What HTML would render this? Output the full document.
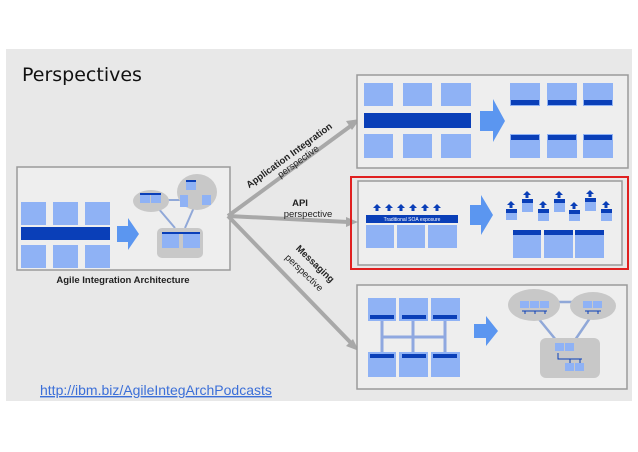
<!DOCTYPE html>
<html><head><meta charset="utf-8"><style>
html,body{margin:0;padding:0;background:#fff}
svg{display:block}
text{font-family:"Liberation Sans",sans-serif}
</style></head><body>
<svg width="638" height="452" viewBox="0 0 638 452" xmlns="http://www.w3.org/2000/svg">
<defs>
<g id="up"><rect x="-1.5" y="2" width="3" height="4" fill="#0a3fb8"/><polygon points="-4,3 0,-1 4,3" fill="#0a3fb8"/></g>
</defs>
<rect x="6" y="49" width="626" height="352" fill="#e8e8e8"/>
<text x="22" y="81" font-size="19" fill="#111" style="font-family:'DejaVu Sans',sans-serif">Perspectives</text>

<!-- left box -->
<rect x="17" y="167" width="213" height="103" fill="#eeeeee" stroke="#9a9a9a" stroke-width="1.5"/>
<g fill="#8fb2f5">
<rect x="21" y="202" width="25" height="23"/><rect x="53" y="202" width="25" height="23"/><rect x="85" y="202" width="25" height="23"/>
<rect x="21" y="245" width="25" height="23"/><rect x="53" y="245" width="25" height="23"/><rect x="85" y="245" width="25" height="23"/>
</g>
<rect x="21" y="227" width="89" height="13" fill="#0a3fb8"/>
<polygon points="117,226 128,226 128,218 139,234 128,250 128,242 117,242" fill="#5b96f0"/>
<g stroke="#90a8d8" stroke-width="2"><line x1="155" y1="200" x2="185" y2="200"/><line x1="158" y1="208" x2="175" y2="228"/><line x1="195" y1="205" x2="185" y2="228"/></g>
<ellipse cx="151" cy="201" rx="18" ry="11" fill="#c8c8c8"/>
<ellipse cx="197" cy="192" rx="20" ry="18" fill="#c8c8c8"/>
<rect x="157" y="228" width="46" height="30" rx="5" fill="#c8c8c8"/>
<g fill="#8fb2f5"><rect x="140" y="193" width="10" height="10"/><rect x="151" y="193" width="10" height="10"/><rect x="186" y="180" width="10" height="10"/><rect x="180" y="195" width="8" height="12"/><rect x="202" y="195" width="9" height="10"/><rect x="162" y="232" width="17" height="16"/><rect x="183" y="232" width="17" height="16"/></g>
<g fill="#0a3fb8"><rect x="140" y="193" width="21" height="2"/><rect x="186" y="180" width="10" height="2"/><rect x="162" y="232" width="38" height="2"/></g>

<text x="123" y="283" font-size="9.5" font-weight="bold" text-anchor="middle" fill="#222">Agile Integration Architecture</text>

<!-- connectors -->
<g stroke="#a8a8a8" stroke-width="4" fill="#a8a8a8">
<line x1="228" y1="216" x2="352" y2="125"/>
<line x1="228" y1="216" x2="348" y2="222"/>
<line x1="228" y1="216" x2="352" y2="344"/>
</g>
<g fill="#a8a8a8">
<polygon points="360,119 346,121 352,130"/>
<polygon points="358,222 346,217 346,227"/>
<polygon points="359,351 346,346 353,339"/>
</g>
<text transform="translate(291,158) rotate(-36)" font-size="9.5" font-weight="bold" text-anchor="middle" fill="#222">Application Integration</text>
<text transform="translate(300,164) rotate(-36)" font-size="9.5" text-anchor="middle" fill="#222">perspective</text>
<text x="300" y="206" font-size="9.5" font-weight="bold" text-anchor="middle" fill="#222">API</text>
<text x="308" y="217" font-size="9.5" text-anchor="middle" fill="#222">perspective</text>
<text transform="translate(313,266) rotate(44)" font-size="9.5" font-weight="bold" text-anchor="middle" fill="#222">Messaging</text>
<text transform="translate(302,275) rotate(44)" font-size="9.5" text-anchor="middle" fill="#222">perspective</text>

<!-- top right box -->
<rect x="357" y="75" width="271" height="93" fill="#eeeeee" stroke="#9a9a9a" stroke-width="1.5"/>
<g fill="#8fb2f5">
<rect x="364" y="83" width="29" height="23"/><rect x="403" y="83" width="29" height="23"/><rect x="441" y="83" width="30" height="23"/>
<rect x="364" y="134" width="29" height="24"/><rect x="403" y="134" width="29" height="24"/><rect x="441" y="134" width="30" height="24"/>
<rect x="510" y="83" width="30" height="23"/><rect x="547" y="83" width="30" height="23"/><rect x="583" y="83" width="30" height="23"/>
<rect x="510" y="134" width="30" height="24"/><rect x="547" y="134" width="30" height="24"/><rect x="583" y="134" width="30" height="24"/>
</g>
<rect x="364" y="113" width="107" height="15" fill="#0a3fb8"/>
<g fill="#0a3fb8">
<rect x="511" y="100" width="28" height="5"/><rect x="548" y="100" width="28" height="5"/><rect x="584" y="100" width="28" height="5"/>
<rect x="511" y="135" width="28" height="5"/><rect x="548" y="135" width="28" height="5"/><rect x="584" y="135" width="28" height="5"/>
</g>
<polygon points="480,111 493,111 493,99 505,121 493,142 493,131 480,131" fill="#5b96f0"/>

<!-- API box -->
<rect x="351" y="177" width="277" height="92" fill="none" stroke="#e02020" stroke-width="2"/>
<rect x="358" y="181" width="264" height="84" fill="#eeeeee" stroke="#9a9a9a" stroke-width="1.5"/>
<g transform="translate(0,205)"><use href="#up" x="377"/><use href="#up" x="389"/><use href="#up" x="401"/><use href="#up" x="413"/><use href="#up" x="425"/><use href="#up" x="437"/></g>
<rect x="366" y="215" width="92" height="8" fill="#0a3fb8"/>
<text x="412" y="221" font-size="5" fill="#fff" text-anchor="middle">Traditional SOA exposure</text>
<g fill="#8fb2f5"><rect x="366" y="225" width="28" height="23"/><rect x="397" y="225" width="28" height="23"/><rect x="428" y="225" width="29" height="23"/>
<rect x="513" y="230" width="28" height="28"/><rect x="544" y="230" width="29" height="28"/><rect x="575" y="230" width="29" height="28"/></g>
<g fill="#0a3fb8"><rect x="513" y="230" width="28" height="5"/><rect x="544" y="230" width="29" height="5"/><rect x="575" y="230" width="29" height="5"/></g>
<polygon points="470,205 481,205 481,195 493,215 481,235 481,225 470,225" fill="#5b96f0"/>
<g fill="#8fb2f5"><rect x="506" y="209" width="11" height="11"/><rect x="522" y="199" width="11" height="13"/><rect x="538" y="209" width="11" height="12"/><rect x="554" y="199" width="11" height="13"/><rect x="569" y="210" width="11" height="11"/><rect x="585" y="198" width="11" height="13"/><rect x="601" y="209" width="11" height="12"/></g>
<g fill="#0a3fb8"><rect x="506" y="209" width="11" height="4"/><rect x="522" y="199" width="11" height="4"/><rect x="538" y="209" width="11" height="4"/><rect x="554" y="199" width="11" height="4"/><rect x="569" y="210" width="11" height="4"/><rect x="585" y="198" width="11" height="4"/><rect x="601" y="209" width="11" height="4"/></g>
<use href="#up" x="511" y="202"/><use href="#up" x="527" y="192"/><use href="#up" x="543" y="202"/><use href="#up" x="559" y="192"/><use href="#up" x="574" y="203"/><use href="#up" x="590" y="191"/><use href="#up" x="606" y="202"/>

<!-- messaging box -->
<rect x="357" y="285" width="270" height="104" fill="#eeeeee" stroke="#9a9a9a" stroke-width="1.5"/>
<g stroke="#8fa8e0" stroke-width="3"><line x1="382" y1="318" x2="382" y2="356"/><line x1="413" y1="318" x2="413" y2="356"/><line x1="445" y1="318" x2="445" y2="356"/><line x1="382" y1="337" x2="445" y2="337"/></g>
<g fill="#8fb2f5"><rect x="368" y="298" width="28" height="23"/><rect x="399" y="298" width="29" height="23"/><rect x="431" y="298" width="29" height="23"/>
<rect x="368" y="352" width="28" height="25"/><rect x="399" y="352" width="29" height="25"/><rect x="431" y="352" width="29" height="25"/></g>
<g fill="#0a3fb8"><rect x="370" y="315" width="24" height="4"/><rect x="402" y="315" width="24" height="4"/><rect x="433" y="315" width="24" height="4"/>
<rect x="370" y="354" width="24" height="4"/><rect x="402" y="354" width="24" height="4"/><rect x="433" y="354" width="24" height="4"/></g>
<polygon points="474,324 486,324 486,316 498,331 486,346 486,338 474,338" fill="#5b96f0"/>
<g stroke="#90a8d8" stroke-width="2.5"><line x1="558" y1="302" x2="572" y2="302"/><line x1="538" y1="318" x2="556" y2="340"/><line x1="590" y1="318" x2="575" y2="340"/></g>
<ellipse cx="534" cy="305" rx="26" ry="16" fill="#c8c8c8"/>
<ellipse cx="593" cy="306" rx="23" ry="14" fill="#c8c8c8"/>
<rect x="540" y="338" width="60" height="40" rx="6" fill="#c8c8c8"/>
<g fill="#8fb2f5"><rect x="520" y="301" width="9" height="7"/><rect x="530" y="301" width="9" height="7"/><rect x="540" y="301" width="9" height="7"/><rect x="583" y="301" width="9" height="7"/><rect x="593" y="301" width="9" height="7"/><rect x="555" y="343" width="9" height="8"/><rect x="565" y="343" width="9" height="8"/><rect x="565" y="363" width="9" height="8"/><rect x="575" y="363" width="9" height="8"/></g>
<g stroke="#0a3fb8" stroke-width="1" fill="none"><path d="M522,311 H547 M525,311 v3 M535,311 v3 M545,311 v3 M585,311 H601 M588,311 v3 M598,311 v3 M558,353 v6 H582 M570,359 v4 M580,359 v4"/></g>

<text x="40" y="395" font-size="14" fill="#3b6fd8" text-decoration="underline">http://ibm.biz/AgileIntegArchPodcasts</text>
</svg>
</body></html>
